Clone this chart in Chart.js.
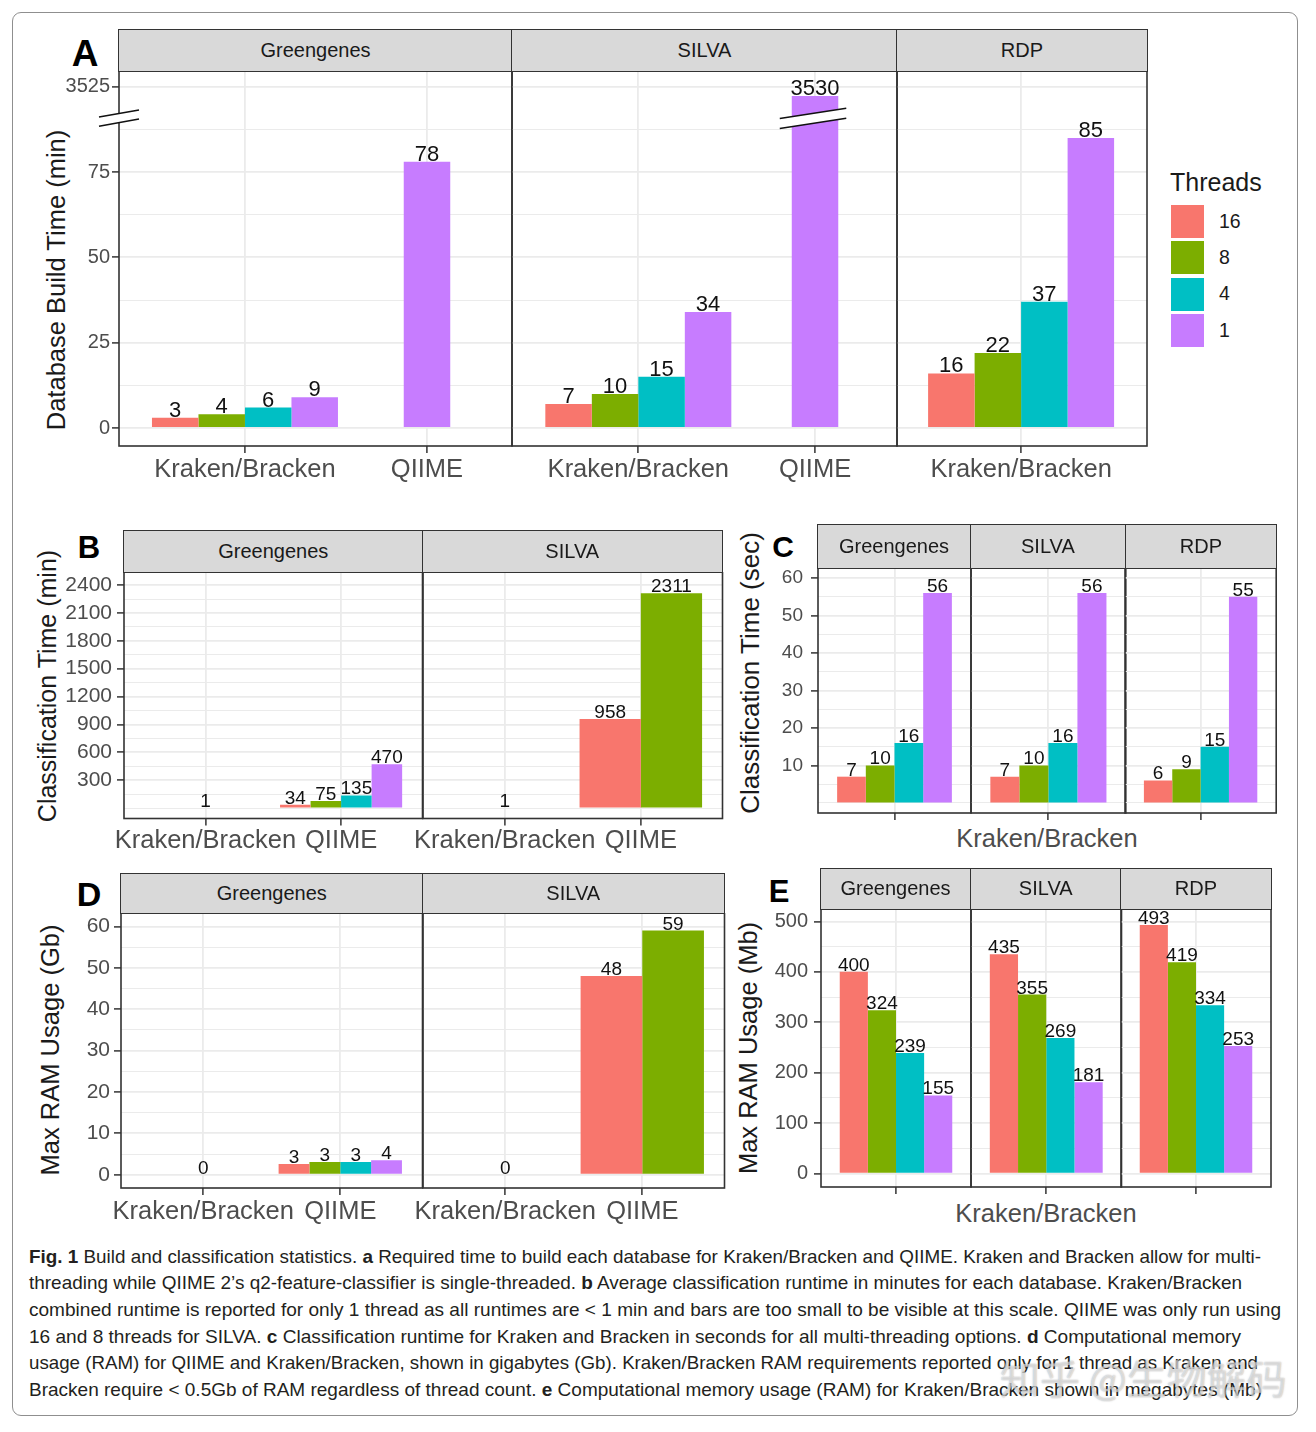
<!DOCTYPE html>
<html><head><meta charset="utf-8">
<script src="https://cdn.jsdelivr.net/npm/chart.js@4.4.1/dist/chart.umd.min.js"></script>
<style>
html,body{margin:0;padding:0;background:#fff;}
#fig{position:relative;width:1316px;height:1432px;overflow:hidden;font-family:"Liberation Sans",Arial,Helvetica,sans-serif;}
.frame{position:absolute;left:12px;top:12px;width:1286px;height:1404px;border:1.5px solid #8f8f8f;border-radius:9px;box-sizing:border-box;}
.t{position:absolute;white-space:nowrap;line-height:1;}
.strip{position:absolute;background:#d9d9d9;border:1.6px solid #333;box-sizing:border-box;display:flex;align-items:center;justify-content:center;color:#1a1a1a;font-size:20px;z-index:3;}
canvas{position:absolute;z-index:2;}
.cap{position:absolute;left:29px;white-space:nowrap;transform-origin:0 50%;font-family:"Liberation Sans Narrow","Liberation Sans",Arial,sans-serif;font-size:18.5px;color:#231f20;line-height:1;}
.key{position:absolute;width:33px;height:33px;}
</style></head><body><div id="fig"><div class="frame"></div></div>
<script>
// ---------------- DATA ----------------
const threads = ['16', '8', '4', '1'];
const threadColors = ['#F8766D', '#7CAE00', '#00BFC4', '#C77CFF'];
const tools = ['Kraken/Bracken', 'QIIME'];
const krakenOnly = ['Kraken/Bracken'];

// A: database build time (min), values by thread [16, 8, 4, 1]
const buildGreengenesKraken = [3, 4, 6, 9];
const buildGreengenesQiime = [null, null, null, 78];
const buildSilvaKraken = [7, 10, 15, 34];
const buildSilvaQiime = [null, null, null, 3530];
const buildRdpKraken = [16, 22, 37, 85];
const buildTicks = [0, 25, 50, 75, 100];
const buildTickLabels = ['0', '25', '50', '75', '3525'];

// B: classification time (min)
const classMinGreengenesKraken = [null, null, null, 1];
const classMinGreengenesQiime = [34, 75, 135, 470];
const classMinSilvaKraken = [null, null, null, 1];
const classMinSilvaQiime = [958, 2311, null, null];
const classMinTicks = [300, 600, 900, 1200, 1500, 1800, 2100, 2400];

// C: classification time (sec), Kraken/Bracken
const classSecGreengenes = [7, 10, 16, 56];
const classSecSilva = [7, 10, 16, 56];
const classSecRdp = [6, 9, 15, 55];
const classSecTicks = [10, 20, 30, 40, 50, 60];

// D: max RAM (Gb)
const ramGbGreengenesKraken = [null, null, null, 0];
const ramGbGreengenesQiime = [2.6, 3.1, 3.1, 3.5];
const ramGbSilvaKraken = [null, null, null, 0];
const ramGbSilvaQiime = [48, 59, null, null];
const ramGbTicks = [0, 10, 20, 30, 40, 50, 60];

// E: max RAM (Mb), Kraken/Bracken
const ramMbGreengenes = [400, 324, 239, 155];
const ramMbSilva = [435, 355, 269, 181];
const ramMbRdp = [493, 419, 334, 253];
const ramMbTicks = [0, 100, 200, 300, 400, 500];

// ---------------- SETUP ----------------
const FONT = '"Liberation Sans", Arial, Helvetica, sans-serif';
Chart.defaults.font.family = FONT;
const fig = document.getElementById('fig');

// axis break for panel A (values above "above" are drawn shifted down)
const BUILD_BREAK = { above: 1000, shift: 3432.7, markAt: 90.8 };
class BrokenLinearScale extends Chart.LinearScale {
  getPixelForValue(v) {
    if (v !== null && v > BUILD_BREAK.above) v = v - BUILD_BREAK.shift;
    return super.getPixelForValue(v);
  }
}
BrokenLinearScale.id = 'brokenLinear';
BrokenLinearScale.defaults = Chart.LinearScale.defaults;
Chart.register(BrokenLinearScale);

function el(tag, cls, style, html) {
  const e = document.createElement(tag);
  if (cls) e.className = cls;
  Object.assign(e.style, style || {});
  if (html !== undefined) e.innerHTML = html;
  fig.appendChild(e);
  return e;
}
function text(str, x, y, o) {
  o = o || {};
  return el('div', 't', {
    left: x + 'px', top: y + 'px', fontSize: (o.size || 20) + 'px', fontWeight: o.weight || 400,
    color: o.color || '#1a1a1a',
    transform: (o.anchor === 'left' ? 'translate(0,-50%)' : 'translate(-50%,-50%)') + (o.rotate ? ' rotate(-90deg)' : '')
  }, str);
}

function minorTicks(major, min, max) {
  const step = major[1] - major[0];
  const ext = [major[0] - step, ...major, major[major.length - 1] + step];
  const out = [];
  for (let i = 0; i < ext.length - 1; i++) out.push((ext[i] + ext[i + 1]) / 2);
  out.push(ext[0], ext[ext.length - 1]);
  return out.filter(v => v >= min && v <= max && !major.includes(v));
}

function breakMark(ctx, cx, cy, x0, x1, slope, gap) {
  const y = (x, off) => cy + off + slope * (x - cx);
  ctx.beginPath();
  ctx.moveTo(x0, y(x0, -gap)); ctx.lineTo(x1, y(x1, -gap));
  ctx.lineTo(x1, y(x1, gap)); ctx.lineTo(x0, y(x0, gap)); ctx.closePath();
  ctx.fillStyle = '#fff'; ctx.fill();
  ctx.strokeStyle = '#111'; ctx.lineWidth = 1.5;
  ctx.beginPath();
  ctx.moveTo(x0, y(x0, -gap)); ctx.lineTo(x1, y(x1, -gap));
  ctx.moveTo(x0, y(x0, gap)); ctx.lineTo(x1, y(x1, gap));
  ctx.stroke();
}

function decoPlugin(f) {
  return {
    id: 'facetDeco',
    afterDatasetsDraw(chart) {
      const ctx = chart.ctx;
      ctx.save();
      ctx.font = f.labelFont + 'px ' + FONT;
      ctx.fillStyle = '#111';
      ctx.textAlign = 'center';
      ctx.textBaseline = 'alphabetic';
      chart.data.datasets.forEach((ds, di) => {
        const meta = chart.getDatasetMeta(di);
        meta.data.forEach((bar, i) => {
          const raw = ds.data[i].y;
          if (raw === null || raw === undefined) return;
          ctx.fillText(String(Math.round(raw)), bar.x, bar.y - 1);
        });
      });
      ctx.restore();
    },
    afterDraw(chart) {
      const ctx = chart.ctx, a = chart.chartArea;
      ctx.save();
      ctx.strokeStyle = '#333'; ctx.lineWidth = 1.6;
      ctx.strokeRect(a.left, a.top, a.right - a.left, a.bottom - a.top);
      if (f.yType === 'brokenLinear') {
        const cy = chart.scales.y.getPixelForValue(BUILD_BREAK.markAt);
        if (f.first) breakMark(ctx, a.left, cy, a.left - 20, a.left + 20, -0.18, 4.6);
        chart.data.datasets.forEach((ds, di) => {
          chart.getDatasetMeta(di).data.forEach((bar, i) => {
            const raw = ds.data[i].y;
            if (raw !== null && raw > BUILD_BREAK.above) {
              breakMark(ctx, bar.x, cy, bar.x - bar.width / 2 - 12, bar.x + bar.width / 2 + 8, -0.155, 5);
            }
          });
        });
      }
      ctx.restore();
    }
  };
}

// bars thinner than half a pixel are not visible in the original rendering
function barFill(color) {
  return c => {
    const s = c.chart.scales && c.chart.scales.y;
    const v = c.parsed ? c.parsed.y : null;
    if (!s || v === null || v === undefined) return color;
    return Math.abs(s.getPixelForValue(v) - s.getPixelForValue(0)) < 0.5 ? 'rgba(0,0,0,0)' : color;
  };
}

function drawFacet(f) {
  el('div', 'strip', {
    left: (f.left - 0.8) + 'px', top: (f.stripTop - 0.8) + 'px',
    width: (f.right - f.left + 1.6) + 'px', height: (f.top - f.stripTop + 1.6) + 'px'
  }, f.db);

  const yW = f.first ? f.yAxisW : 0;
  const padL = 40;
  const plotW = f.right - f.left, plotH = f.bottom - f.top;
  const cw = Math.ceil(padL + yW + plotW + 40);
  const padR = cw - padL - yW - plotW;
  const ch = Math.ceil(plotH + f.xAxisH);
  const padB = ch - plotH - f.xAxisH;
  const canvas = document.createElement('canvas');
  canvas.width = cw; canvas.height = ch;
  canvas.style.width = cw + 'px'; canvas.style.height = ch + 'px';
  canvas.style.left = (f.left - yW - padL) + 'px';
  canvas.style.top = f.top + 'px';
  fig.appendChild(canvas);

  const minors = minorTicks(f.yMajor, f.yMin, f.yMax);
  const allY = [...minors, ...f.yMajor].sort((a, b) => a - b);
  const isMajor = v => f.yMajor.includes(v);
  const yLabel = v => {
    const k = f.yMajor.indexOf(v);
    if (k < 0) return '';
    return f.yLabels ? f.yLabels[k] : String(v);
  };

  const dsOpts = f.barThickness ? { barThickness: f.barThickness } : { categoryPercentage: f.catPct, barPercentage: 1 };
  new Chart(canvas, {
    type: 'bar',
    data: {
      datasets: threads.map((t, i) => Object.assign({
        label: t,
        data: f.cats.map((c, j) => ({ x: j, y: f.values[j][i] })),
        backgroundColor: barFill(threadColors[i]),
        borderWidth: 0,
        inflateAmount: 0,
        skipNull: true
      }, dsOpts))
    },
    options: {
      responsive: false, maintainAspectRatio: false, animation: false, devicePixelRatio: 1,
      layout: { padding: { left: padL, right: padR, top: 0, bottom: padB } },
      plugins: { legend: { display: false }, tooltip: { enabled: false } },
      scales: {
        x: {
          type: 'linear', min: f.xMin, max: f.xMax, bounds: 'data', offset: false,
          afterBuildTicks: s => { s.ticks = f.cats.map((c, j) => ({ value: j })); },
          afterFit: s => { s.height = f.xAxisH; s.paddingLeft = 0; s.paddingRight = 0; },
          grid: { offset: false, color: '#ebebeb', lineWidth: 1.8, drawTicks: true, tickLength: 7, tickColor: '#333', tickWidth: 1.5 },
          border: { display: false },
          ticks: {
            display: !!f.xLabels, autoSkip: false, maxRotation: 0, minRotation: 0,
            padding: f.xPad || 0, color: '#4d4d4d', font: { size: f.xFont || 25, family: FONT },
            callback: v => f.cats[v]
          }
        },
        y: {
          type: f.yType || 'linear', min: f.yMin, max: f.yMax, bounds: 'data', beginAtZero: false,
          afterBuildTicks: s => { s.ticks = allY.map(v => ({ value: v })); },
          afterFit: s => { s.width = yW; s.paddingTop = 0; s.paddingBottom = 0; },
          grid: {
            color: '#ebebeb',
            lineWidth: c => (c.tick && isMajor(c.tick.value)) ? 1.8 : 1,
            drawTicks: !!f.first, tickLength: 7, tickWidth: 1.5,
            tickColor: c => (c.tick && isMajor(c.tick.value)) ? '#333' : 'rgba(0,0,0,0)'
          },
          border: { display: false },
          ticks: {
            display: !!f.first, autoSkip: false, padding: f.yPad, color: '#4d4d4d',
            font: { size: f.yFont, family: FONT }, callback: v => yLabel(v)
          }
        }
      }
    },
    plugins: [decoPlugin(f)]
  });
}

function panel(common, facets) {
  facets.forEach((fc, i) => drawFacet(Object.assign({}, common, { first: i === 0 }, fc)));
}

// ---------------- PANEL A ----------------
panel({
  stripTop: 30, top: 71, bottom: 446, yMin: -5.27, yMax: 104.6, yMajor: buildTicks, yLabels: buildTickLabels,
  yType: 'brokenLinear', yFont: 20, yPad: 2, yAxisW: 60, xLabels: true, xFont: 25.5, xPad: 2, xAxisH: 45,
  barThickness: 46.5, labelFont: 22
}, [
  { db: 'Greengenes', left: 119, right: 512, cats: tools, values: [buildGreengenesKraken, buildGreengenesQiime], xMin: -0.692, xMax: 1.467 },
  { db: 'SILVA', left: 512, right: 897, cats: tools, values: [buildSilvaKraken, buildSilvaQiime], xMin: -0.715, xMax: 1.464 },
  { db: 'RDP', left: 897, right: 1147, cats: krakenOnly, values: [buildRdpKraken], xMin: -0.69, xMax: 0.70 }
]);

// ---------------- PANEL B ----------------
panel({
  stripTop: 531, top: 572, bottom: 818.5, yMin: -113, yMax: 2541, yMajor: classMinTicks,
  yFont: 21, yPad: 5, yAxisW: 60, xLabels: true, xFont: 25.5, xPad: 0.5, xAxisH: 45,
  catPct: 0.9, labelFont: 19, xMin: -0.6, xMax: 1.6
}, [
  { db: 'Greengenes', left: 124, right: 422.5, cats: tools, values: [classMinGreengenesKraken, classMinGreengenesQiime] },
  { db: 'SILVA', left: 422.5, right: 722, cats: tools, values: [classMinSilvaKraken, classMinSilvaQiime] }
]);

// ---------------- PANEL C ----------------
panel({
  stripTop: 525, top: 568.3, bottom: 813.3, yMin: -2.69, yMax: 62.67, yMajor: classSecTicks,
  yFont: 19, yPad: 8, yAxisW: 50, xLabels: false, xAxisH: 12, catPct: 0.75, labelFont: 19, xMin: -0.6, xMax: 0.6
}, [
  { db: 'Greengenes', left: 817.5, right: 970.5, cats: krakenOnly, values: [classSecGreengenes] },
  { db: 'SILVA', left: 970.5, right: 1125.3, cats: krakenOnly, values: [classSecSilva] },
  { db: 'RDP', left: 1125.3, right: 1276.5, cats: krakenOnly, values: [classSecRdp] }
]);

// ---------------- PANEL D ----------------
panel({
  stripTop: 874, top: 913.3, bottom: 1188.3, yMin: -3.21, yMax: 63.24, yMajor: ramGbTicks,
  yFont: 21, yPad: 4, yAxisW: 60, xLabels: true, xFont: 25.5, xPad: 1.7, xAxisH: 45,
  catPct: 0.9, labelFont: 19, xMin: -0.6, xMax: 1.6
}, [
  { db: 'Greengenes', left: 121, right: 422.5, cats: tools, values: [ramGbGreengenesKraken, ramGbGreengenesQiime] },
  { db: 'SILVA', left: 422.5, right: 724, cats: tools, values: [ramGbSilvaKraken, ramGbSilvaQiime] }
]);

// ---------------- PANEL E ----------------
panel({
  stripTop: 868.3, top: 909.3, bottom: 1187.3, yMin: -26.4, yMax: 524.6, yMajor: ramMbTicks,
  yFont: 20, yPad: 6, yAxisW: 55, xLabels: false, xAxisH: 12, catPct: 0.75, labelFont: 19, xMin: -0.6, xMax: 0.6
}, [
  { db: 'Greengenes', left: 820.5, right: 970.5, cats: krakenOnly, values: [ramMbGreengenes] },
  { db: 'SILVA', left: 970.5, right: 1121, cats: krakenOnly, values: [ramMbSilva] },
  { db: 'RDP', left: 1121, right: 1271, cats: krakenOnly, values: [ramMbRdp] }
]);

// ---------------- TEXT ----------------
text('A', 85, 53, { size: 37, weight: 700, color: '#000' });
text('B', 89, 547, { size: 31, weight: 700, color: '#000' });
text('C', 783, 547, { size: 30, weight: 700, color: '#000' });
text('D', 89, 894, { size: 34, weight: 700, color: '#000' });
text('E', 779, 891, { size: 31, weight: 700, color: '#000' });

text('Database Build Time (min)', 57, 280, { size: 25.5, rotate: true });
text('Classification Time (min)', 47, 686, { size: 25, rotate: true });
text('Classification Time (sec)', 750, 673, { size: 26, rotate: true });
text('Max RAM Usage (Gb)', 51, 1050, { size: 25.5, rotate: true });
text('Max RAM Usage (Mb)', 749, 1048, { size: 25.5, rotate: true });

text('Kraken/Bracken', 1047, 839, { size: 25.5, color: '#4d4d4d' });
text('Kraken/Bracken', 1046, 1214, { size: 25.5, color: '#4d4d4d' });

// legend
text('Threads', 1170, 182, { size: 25, anchor: 'left' });
threads.forEach((t, i) => {
  const top = 205 + i * 36.4;
  el('div', 'key', { left: '1171px', top: top + 'px', background: threadColors[i] });
  text(t, 1219, top + 16.5, { size: 19.5, anchor: 'left' });
});

// caption
const captionLines = [
  '<b>Fig. 1</b> Build and classification statistics. <b>a</b> Required time to build each database for Kraken/Bracken and QIIME. Kraken and Bracken allow for multi-',
  'threading while QIIME 2’s q2-feature-classifier is single-threaded. <b>b</b> Average classification runtime in minutes for each database. Kraken/Bracken',
  'combined runtime is reported for only 1 thread as all runtimes are &lt; 1 min and bars are too small to be visible at this scale. QIIME was only run using',
  '16 and 8 threads for SILVA. <b>c</b> Classification runtime for Kraken and Bracken in seconds for all multi-threading options. <b>d</b> Computational memory',
  'usage (RAM) for QIIME and Kraken/Bracken, shown in gigabytes (Gb). Kraken/Bracken RAM requirements reported only for 1 thread as Kraken and',
  'Bracken require &lt; 0.5Gb of RAM regardless of thread count. <b>e</b> Computational memory usage (RAM) for Kraken/Bracken shown in megabytes (Mb)'
];
const captionRight = [1261, 1242, 1281, 1241, 1258, 1262];
const capEls = captionLines.map((h, i) => el('div', 'cap', { top: (1256.7 + i * 26.6) + 'px' }, h));
function fitCaption() {
  capEls.forEach((e, i) => {
    e.style.transform = 'translateY(-50%)';
    const w = e.getBoundingClientRect().width;
    e.style.transform = 'translateY(-50%) scaleX(' + ((captionRight[i] - 29) / w) + ')';
  });
}
fitCaption();
if (document.fonts && document.fonts.ready) document.fonts.ready.then(fitCaption);

// watermark
el('div', 't', {
  left: '1000px', top: '1377px', transform: 'translateY(-50%)', fontSize: '40px',
  fontFamily: '"Noto Sans CJK SC", sans-serif', color: 'rgba(255,255,255,0.55)',
  textShadow: '0 0 1.5px rgba(90,90,90,0.55)', zIndex: 5
}, '知乎 @生物解码');
</script></body></html>
